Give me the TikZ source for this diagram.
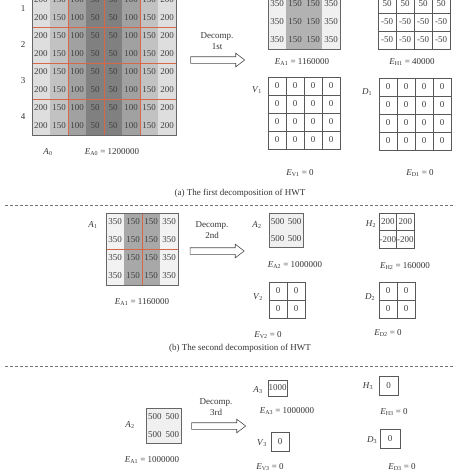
\documentclass[tikz,border=0pt]{standalone}
\usepackage{fontspec}
\setmainfont{Liberation Serif}
\usetikzlibrary{shapes.arrows}

\definecolor{gridred}{RGB}{214,104,72}
\newcommand{\sym}[2]{\textit{#1}\textsubscript{#2}}
% grid of plain cells, #1 name, #2 x, #3 y, #4 cell size, #5 rows
\newcommand{\numgrid}[5]{%
\foreach \row [count=\i] in {#5} {
  \foreach \v [count=\j] in \row {
    \draw[cellline] (#2+#4*\j-#4,#3+#4*\i-#4) rectangle ++(#4,#4);
    \node[num] (#1-\i-\j) at (#2+#4*\j-#4/2,#3+#4*\i-#4/2) {\v};
  }
}}

\tikzset{
  num/.style={font=\fontsize{9}{10}\selectfont, text=black!75, inner sep=0pt},
  lbl/.style={font=\fontsize{9}{11}\selectfont, text=black!80, inner sep=0pt, align=center},
  frame/.style={draw=black!60, line width=0.8pt},
  cellline/.style={draw=black!65, line width=0.6pt},
  redline/.style={draw=gridred, line width=0.6pt},
  sepline/.style={draw=black!55, line width=0.6pt, dash pattern=on 3pt off 2pt},
  box/.style={draw=black!65, line width=0.6pt, font=\fontsize{9}{10}\selectfont, text=black!75, inner sep=0pt},
  decomp/.style={single arrow, draw=black!70, fill=white, line width=0.6pt, inner sep=3pt,
    minimum height=54pt, single arrow head extend=3.5pt, single arrow tip angle=75,
    single arrow head indent=0pt}
}

\begin{document}
\begin{tikzpicture}[x=1pt,y=-1pt]
\useasboundingbox (0,0) rectangle (474,474);
\clip (0,0) rectangle (474,474);

%%% (a) first decomposition
% A0
\foreach \v/\sh [count=\c] in {200/13,150/24,100/37,50/50,50/50,100/37,150/24,200/13} {
  \fill[black!\sh] (14+18*\c,-9) rectangle ++(18,144);
  \foreach \r in {1,...,8}
    \node[num] (a0-\r-\c) at (23+18*\c,-18+18*\r) {\v};
}
\foreach \k in {1,2,3} {
  \draw[redline] (32+36*\k,-9) -- ++(0,144);
  \draw[redline] (32,-9+36*\k) -- ++(144,0);
}
\draw[frame] (32,-9) rectangle ++(144,144);
\foreach \k in {1,...,4}
  \node[lbl] (row\k) at (23,-27+36*\k) {\k};
\node[lbl] (A0) at (48,152) {\sym{A}{0}};
\node[lbl] (EA0) at (112,152) {\sym{E}{A0} = 1200000};

\node[decomp] (dec1) at (215.5,60) {};
\node[lbl] (txt1) at (217,41) {Decomp.\\1st};

% A1
\foreach \v/\sh [count=\c] in {350/6,150/30,150/30,350/6} {
  \fill[black!\sh] (250+18*\c,-23) rectangle ++(18,72);
  \foreach \r in {1,...,4}
    \node[num] (a1-\r-\c) at (259+18*\c,-32+18*\r) {\v};
}
\draw[frame] (268,-23) rectangle ++(72,72);
\node[lbl] (EA1) at (302,62) {\sym{E}{A1} = 1160000};

% H1
\numgrid{h1}{378}{-23}{18}{{50,50,50,50},{50,50,50,50},{-50,-50,-50,-50},{-50,-50,-50,-50}}
\node[lbl] (EH1) at (412,62) {\sym{E}{H1} = 40000};

% V1, D1
\numgrid{v1}{268}{77}{18}{{0,0,0,0},{0,0,0,0},{0,0,0,0},{0,0,0,0}}
\node[lbl] (V1) at (257,90) {\sym{V}{1}};
\node[lbl] (EV1) at (300,173) {\sym{E}{V1} = 0};
\numgrid{d1}{379}{78}{18}{{0,0,0,0},{0,0,0,0},{0,0,0,0},{0,0,0,0}}
\node[lbl] (D1) at (367,92) {\sym{D}{1}};
\node[lbl] (ED1) at (420,173) {\sym{E}{D1} = 0};

\node[lbl] (capa) at (240,193) {(a) The first decomposition of HWT};
\coordinate (sa1) at (5,205);
\coordinate (sa2) at (455,205);
\draw[sepline] (sa1) -- (sa2);

%%% (b) second decomposition
\foreach \v/\sh [count=\c] in {350/5,150/34,150/34,350/5} {
  \fill[black!\sh] (88+18*\c,213) rectangle ++(18,72);
  \foreach \r in {1,...,4}
    \node[num] (b1-\r-\c) at (97+18*\c,204+18*\r) {\v};
}
\draw[redline] (142,213) -- ++(0,72);
\draw[redline] (106,249) -- ++(72,0);
\draw[frame] (106,213) rectangle ++(72,72);
\node[lbl] (A1) at (93,225) {\sym{A}{1}};
\node[lbl] (EA1b) at (142,302) {\sym{E}{A1} = 1160000};

\node[decomp] (dec2) at (215,251) {};
\node[lbl] (txt2) at (212,230.5) {Decomp.\\2nd};

% A2
\fill[black!6] (269,213) rectangle ++(34,34);
\draw[frame] (269,213) rectangle ++(34,34);
\foreach \r in {1,2}
  \foreach \c in {1,2}
    \node[num] (b2-\r-\c) at (260.5+17*\c,204.5+17*\r) {500};
\node[lbl] (A2) at (257,225) {\sym{A}{2}};
\node[lbl] (EA2) at (295,265) {\sym{E}{A2} = 1000000};

% H2, V2, D2
\numgrid{h2}{379}{213}{17.5}{{200,200},{-200,-200}}
\node[lbl] (H2) at (371,224) {\sym{H}{2}};
\node[lbl] (EH2) at (405,266) {\sym{E}{H2} = 160000};
\numgrid{v2}{269}{282}{18}{{0,0},{0,0}}
\node[lbl] (V2) at (258,297) {\sym{V}{2}};
\node[lbl] (EV2) at (268,335) {\sym{E}{V2} = 0};
\numgrid{d2}{379}{282}{18}{{0,0},{0,0}}
\node[lbl] (D2) at (370,297) {\sym{D}{2}};
\node[lbl] (ED2) at (388,333) {\sym{E}{D2} = 0};

\node[lbl] (capb) at (240,348) {(b) The second decomposition of HWT};
\coordinate (sb1) at (5,366);
\coordinate (sb2) at (455,366);
\draw[sepline] (sb1) -- (sb2);

%%% (c) third decomposition
\fill[black!6] (146,408) rectangle ++(35,35);
\draw[frame] (146,408) rectangle ++(35,35);
\foreach \r in {1,2}
  \foreach \c in {1,2}
    \node[num] (c2-\r-\c) at (137.25+17.5*\c,399.25+17.5*\r) {500};
\node[lbl] (A2c) at (130,425) {\sym{A}{2}};
\node[lbl] (EA1c) at (152,460) {\sym{E}{A1} = 1000000};

\node[decomp] (dec3) at (216.5,426) {};
\node[lbl] (txt3) at (216,407.5) {Decomp.\\3rd};

\node[box, minimum width=19pt, minimum height=16pt] (a3) at (277.5,388) {1000};
\node[lbl] (A3) at (258,390) {\sym{A}{3}};
\node[lbl] (EA3) at (287,411) {\sym{E}{A3} = 1000000};
\node[box, minimum width=19pt, minimum height=19pt] (h3) at (388.5,385.5) {0};
\node[lbl] (H3) at (368,386) {\sym{H}{3}};
\node[lbl] (EH3) at (394,412) {\sym{E}{H3} = 0};
\node[box, minimum width=18pt, minimum height=19pt] (v3) at (280,441.5) {0};
\node[lbl] (V3) at (262,443) {\sym{V}{3}};
\node[lbl] (EV3) at (270,467) {\sym{E}{V3} = 0};
\node[box, minimum width=20pt, minimum height=19pt] (d3) at (390,438.5) {0};
\node[lbl] (D3) at (372,440) {\sym{D}{3}};
\node[lbl] (ED3) at (402,467) {\sym{E}{D3} = 0};
\end{tikzpicture}
\end{document}
